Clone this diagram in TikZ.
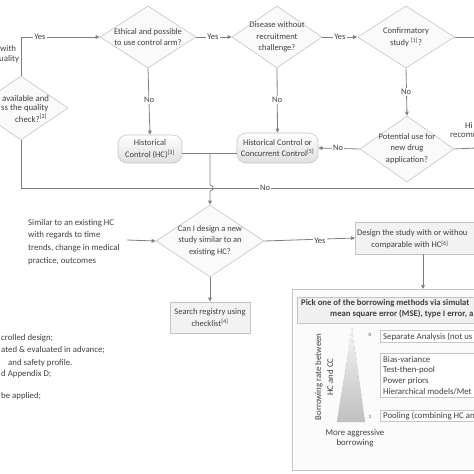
\documentclass[tikz,border=0pt]{standalone}
\usepackage{fontspec}
\setmainfont{Carlito}
\usetikzlibrary{shapes.geometric,arrows.meta}
\definecolor{txt}{HTML}{404040}
\definecolor{ln}{HTML}{7F7F7F}
\definecolor{bd}{HTML}{C4C4C4}
\begin{document}
\begin{tikzpicture}[x=1pt,y=-1pt,
  every node/.style={text=txt,font=\fontsize{8.5}{11.5}\selectfont},
  dia/.style={diamond,draw=bd,fill=gray!4,inner sep=0pt,line width=0.6pt},
  dtext/.style={align=center,inner sep=0pt},
  lbl/.style={fill=white,inner sep=1pt},
  conn/.style={draw=ln,line width=0.8pt},
  arr/.style={conn,-{Triangle[length=4pt,width=3.6pt]}},
  pill/.style={draw=bd,rounded corners=9pt,top color=white,bottom color=gray!25,align=center,inner sep=0pt,line width=0.6pt},
  boxx/.style={draw=bd,fill=gray!10,align=center,inner sep=0pt,line width=0.6pt},
  wbox/.style={draw=gray!45,fill=white,inner sep=0pt,anchor=north west,line width=0.5pt},
  side/.style={font=\fontsize{8.8}{12.7}\selectfont,align=left,inner sep=0pt},
  frag/.style={font=\fontsize{8.8}{12.7}\selectfont,inner sep=0pt,anchor=west}
]
\useasboundingbox (0,0) rectangle (474,474);
\clip (0,0) rectangle (474,474);

% diamonds
\node[dia,minimum width=94pt,minimum height=64pt] (d1) at (21,108) {};
\node[dia,minimum width=96pt,minimum height=62pt] (dE) at (148,37) {};
\node[dia,minimum width=90pt,minimum height=62pt] (dD) at (277,37) {};
\node[dia,minimum width=97pt,minimum height=62pt] (dC) at (406,37) {};
\node[dia,minimum width=94pt,minimum height=66pt] (dP) at (407,149) {};
\node[dia,minimum width=108pt,minimum height=72pt] (dN) at (210,241) {};

\node[frag] (f1) at (2,98) {available and};
\node[frag] (f2) at (1,108) {ss the quality};
\node[frag] (f3) at (15,118) {check?\textsuperscript{[2]}};
\node[frag] (f4) at (0,48) {with};
\node[frag] (f5) at (-1,59) {uality};

\node[dtext] (tE) at (dE) {Ethical and possible\\to use control arm?};
\node[dtext] (tD) at (dD) {Disease without\\recruitment\\challenge?};
\node[dtext] (tC) at (dC) {Confirmatory\\study \textsuperscript{[1]}?};
\node[dtext] (tP) at (407,148.5) {Potential use for\\new drug\\application?};
\node[dtext] (tN) at (210,240.5) {Can I design a new\\study similar to an\\existing HC?};

% rounded nodes
\node[pill,minimum width=64pt,minimum height=28pt] (HC) at (150,149) {Historical\\Control (HC)\textsuperscript{[3]}};
\node[pill,minimum width=81pt,minimum height=30pt] (HCC) at (277.5,148) {Historical Control or\\Concurrent Control\textsuperscript{[5]}};

\node[frag] (hi) at (465,125) {Hi};
\node[frag] (rec) at (450,135) {recomm};

% boxes
\node[boxx,minimum width=80pt,minimum height=31pt] (S) at (210,317.5) {Search registry using\\checklist\textsuperscript{[4]}};
\node[boxx,anchor=west,minimum width=130pt,minimum height=32pt] (Dz) at (355,238) {};
\node[frag,font=\fontsize{8.5}{11}\selectfont] (dz1) at (357,233) {Design the study with or withou};
\node[inner sep=0pt] (dz2) at (410,245) {comparable with HC\textsuperscript{[6]}};

% side texts
\node[side,anchor=west] (sim) at (28,242) {Similar to an existing HC\\with regards to time\\trends, change in medical\\practice, outcomes};
\node[frag] (b1) at (1,338) {crolled design;};
\node[frag] (b2) at (1,350) {ated \& evaluated in advance;};
\node[frag] (b3) at (8,363) {and safety profile.};
\node[frag] (b4) at (1,374) {d Appendix D;};
\node[frag] (b5) at (1,396) {be applied;};

% coordinates
\coordinate (c0) at (21,37);
\coordinate (cL) at (21,188);
\coordinate (cR) at (476,188);
\coordinate (cR1) at (476,37);
\coordinate (cR2) at (476,148);
\coordinate (jn) at (210,153);
\coordinate (hop) at (210,185);
\coordinate (sA) at (127,240);
\coordinate (ax) at (423,0);

% connectors
\draw[arr] (d1.north) -- (c0) -- (dE.west);
\node[lbl] at (40,37) {Yes};
\draw[arr] (dE.east) -- (dD.west);
\node[lbl] at (213,37) {Yes};
\draw[arr] (dD.east) -- (dC.west);
\node[lbl] at (340,37) {Yes};
\draw[conn] (dC.east) -- (cR1);

\draw[arr] (dE.south) -- (HC.north);
\node[lbl] at (149,100) {No};
\draw[arr] (dD.south) -- (HCC.north);
\node[lbl] at (277,100) {No};
\draw[arr] (dC.south) -- (dP.north);
\node[lbl] at (406,92) {No};
\draw[arr] (dP.west) -- (HCC.east);
\node[lbl] at (338,148) {No};
\draw[conn] (dP.east) -- (cR2);

\draw[conn] (HC.east |- jn) -- (HCC.west |- jn);
\draw[conn,line width=1pt] (d1.south) -- (cL) -- (cR);
\node[lbl] at (265,188) {No};
\draw[arr] (jn) -- (hop) arc[start angle=90,end angle=-90,radius=3pt] -- (dN.north);

\draw[arr] (sA) -- (dN.west);
\draw[arr] (dN.east) -- (Dz.west);
\node[lbl] at (320,241) {Yes};
\draw[arr] (dN.south) -- (S.north);

% big box
\node[draw=bd,fill=gray!3,anchor=north west,minimum width=190pt,minimum height=181pt,inner sep=0pt,line width=0.7pt] (BB) at (292,289) {};
\draw[arr] (Dz.south -| ax) -- (BB.north -| ax);
\node[draw=bd,fill=gray!12,anchor=north west,minimum width=185pt,minimum height=26pt,inner sep=0pt] (HB) at (297,297) {};
\node[frag,font=\bfseries\fontsize{8.7}{11}\selectfont] (h1) at (301,303.5) {Pick one of the borrowing methods via simulat};
\node[frag,font=\bfseries\fontsize{8.7}{11}\selectfont] (h2) at (330,314) {mean square error (MSE), type I error, a};

\draw[dashed,draw=gray!45,top color=gray!8,bottom color=gray!50] (352,328) -- (365,422) -- (337,422) -- cycle;
\node[rotate=90,align=center,inner sep=0pt,font=\fontsize{8.8}{12}\selectfont] (rt) at (324,377) {Borrowing rate between\\HC and CC};
\node[inner sep=0pt,font=\fontsize{5}{6}\selectfont] (z0) at (370,335) {0};
\node[inner sep=0pt,font=\fontsize{5}{6}\selectfont] (z1) at (370,417) {1};

\node[wbox,minimum width=100pt,minimum height=12pt] (sep) at (380,330) {};
\node[frag] at (383,336.5) {Separate Analysis (not us};
\node[wbox,minimum width=100pt,minimum height=44pt] (lst) at (380,353) {};
\node[side,anchor=west,font=\fontsize{8.8}{10.7}\selectfont] at (383,375.5) {Bias-variance\\Test-then-pool\\Power priors\\Hierarchical models/Met};
\node[wbox,minimum width=100pt,minimum height=11pt] (pool) at (380,410) {};
\node[frag] at (383,416) {Pooling (combining HC an};

\node[align=center,inner sep=0pt,font=\fontsize{8.8}{10.5}\selectfont] (ma) at (355,438) {More aggressive\\borrowing};
\end{tikzpicture}
\end{document}
